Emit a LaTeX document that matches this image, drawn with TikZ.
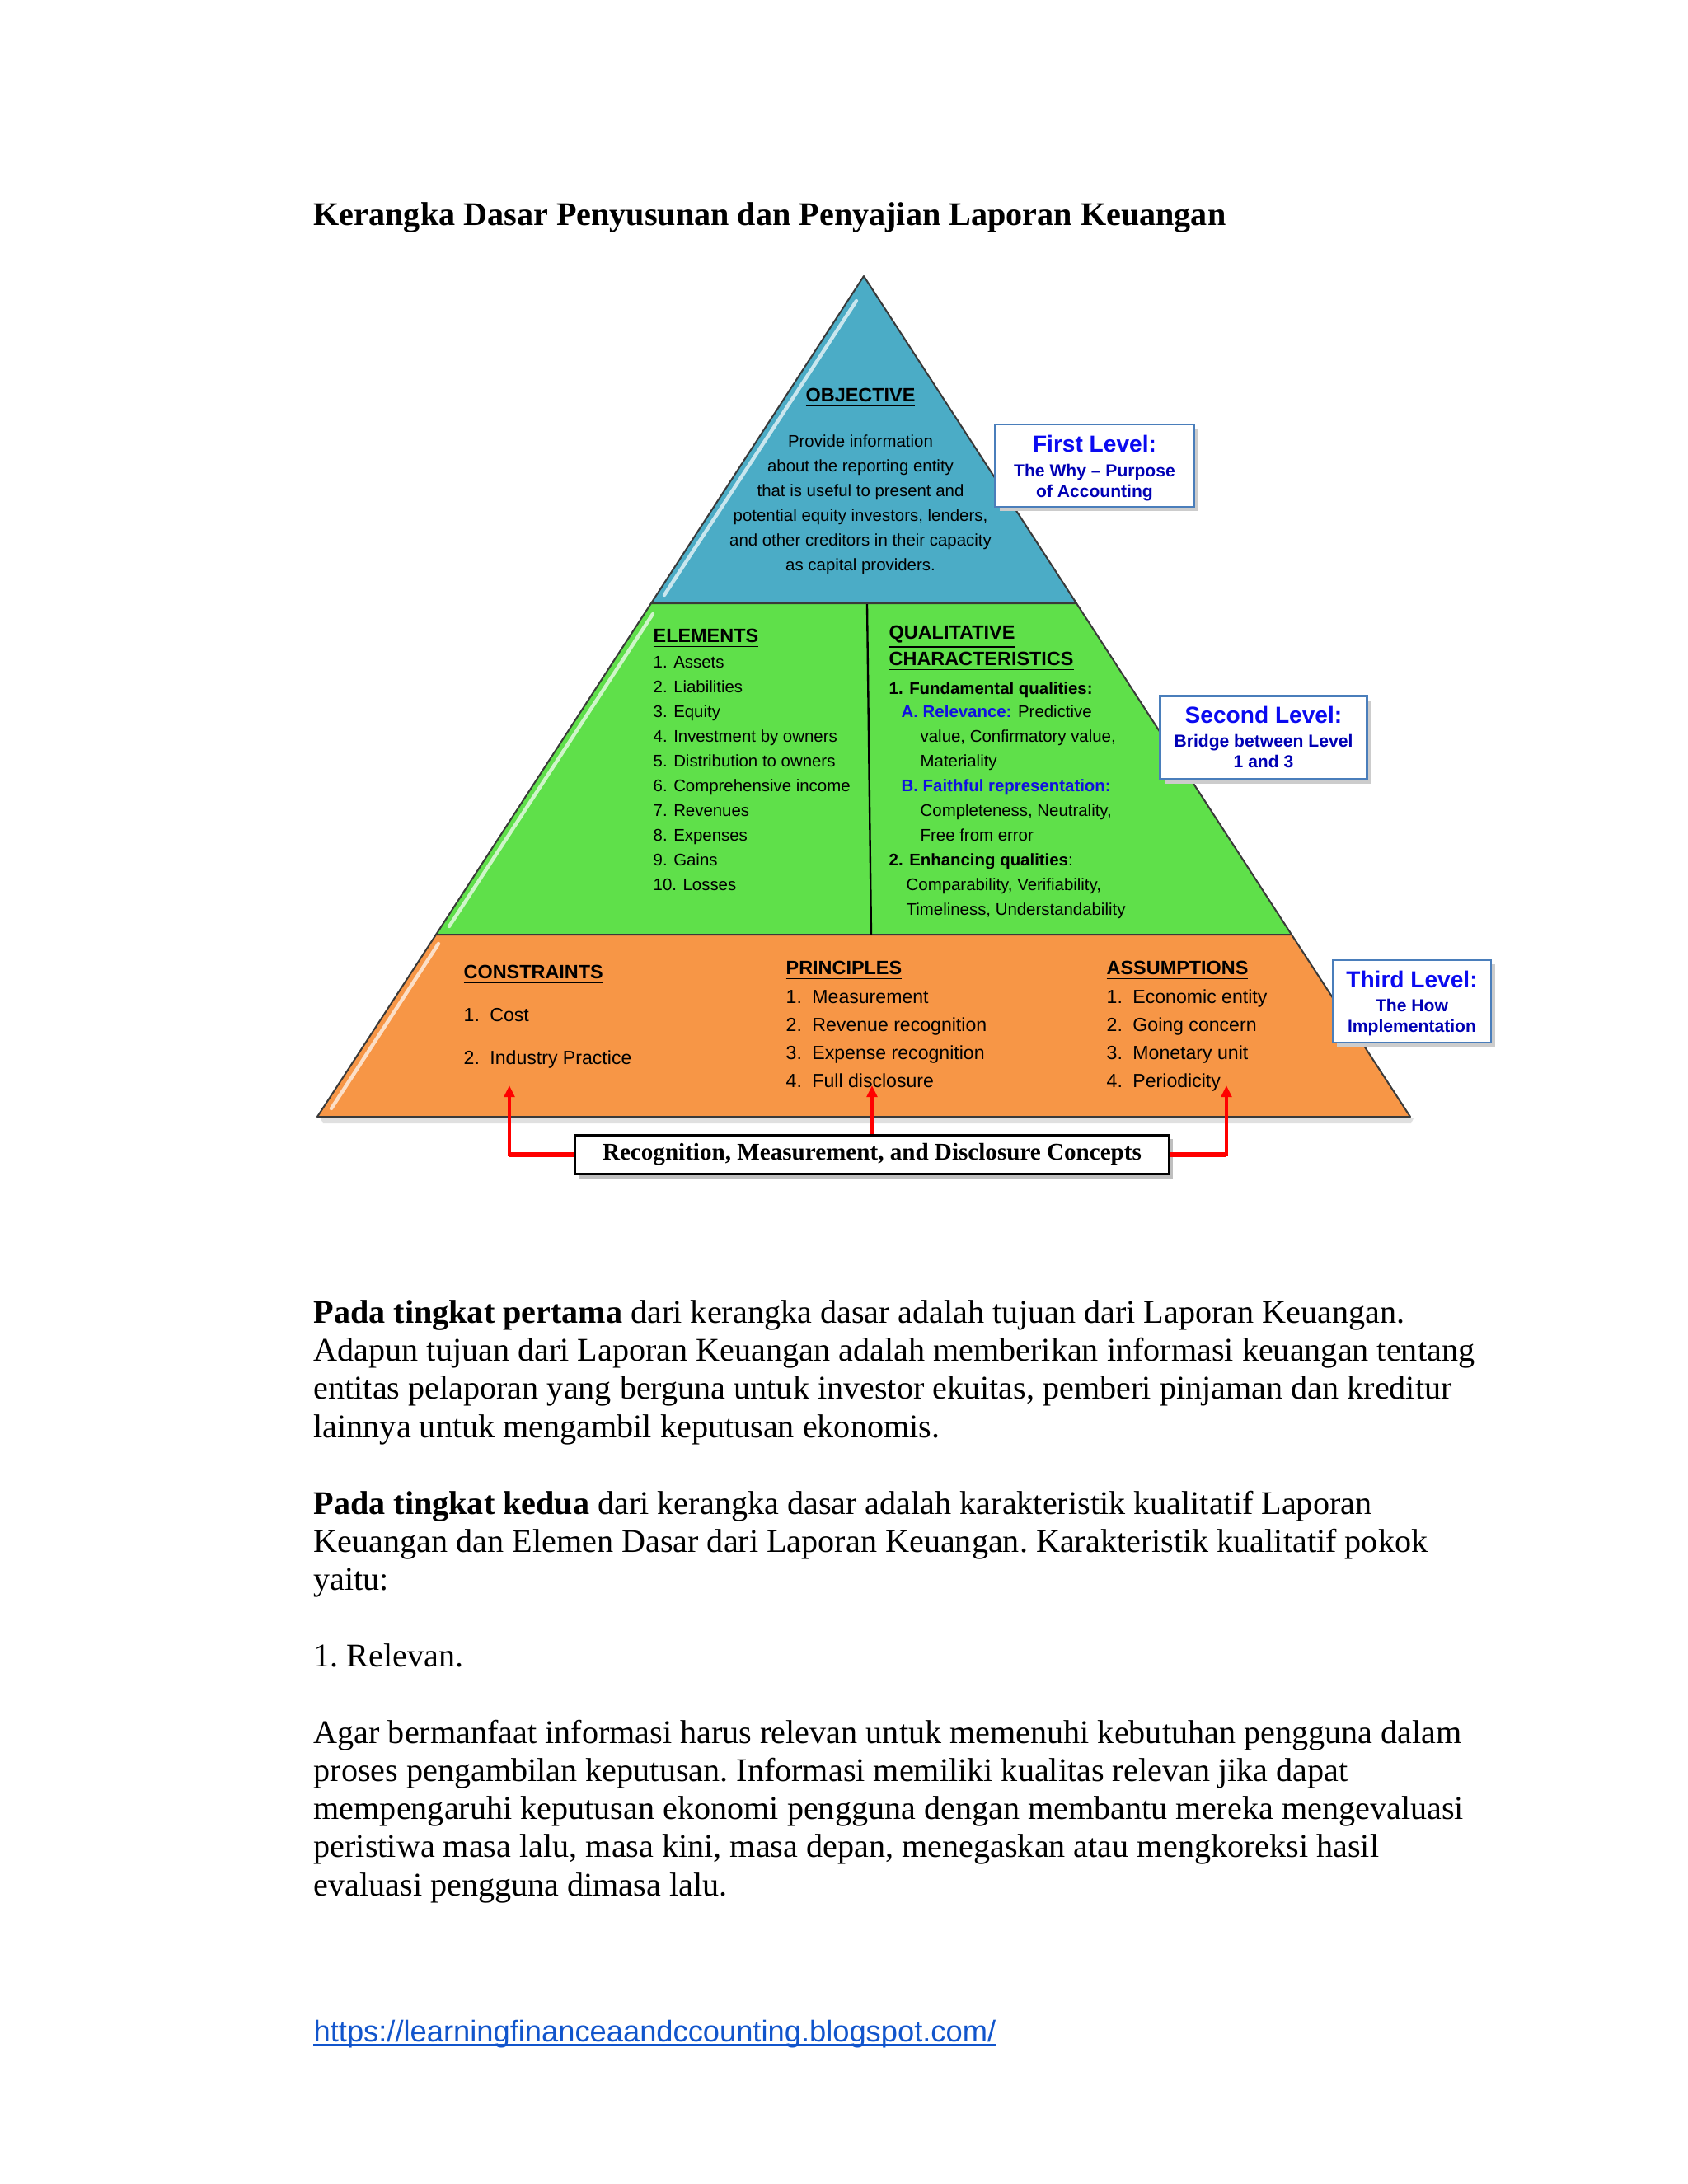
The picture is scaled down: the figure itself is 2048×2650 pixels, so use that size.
\documentclass[tikz,border=0pt]{standalone}
\usepackage{fontspec}
\setmainfont{Liberation Serif}
\newfontfamily\arial{Liberation Sans}
\usetikzlibrary{arrows.meta}
\definecolor{pblue}{HTML}{4BACC6}
\definecolor{pgreen}{HTML}{5FE04A}
\definecolor{porange}{HTML}{F79646}
\definecolor{lvlblue}{HTML}{0A0AF0}
\definecolor{subblue}{HTML}{0000B4}
\definecolor{qblue}{HTML}{1010E0}
\definecolor{boxblue}{HTML}{4A7EBB}
\definecolor{linkblue}{HTML}{1155CC}
\definecolor{edge}{HTML}{3A3A3A}
\tikzset{
  body/.style={anchor=base west, inner sep=0pt, font=\frenchspacing\fontsize{12}{14}\selectfont},
  gtxt/.style={anchor=mid west, inner sep=0pt, font=\arial\fontsize{6.1}{7}\selectfont},
  ctxt/.style={anchor=mid, inner sep=0pt, font=\arial\fontsize{6.1}{7}\selectfont},
  otxt/.style={anchor=mid west, inner sep=0pt, font=\arial\fontsize{6.9}{8}\selectfont},
  head/.style={anchor=mid west, inner sep=0pt, font=\arial\bfseries\fontsize{7}{8}\selectfont},
  lvlbox/.style={draw=boxblue, line width=0.7pt, fill=white, inner sep=0pt},
  lvltitle/.style={anchor=mid, inner sep=0pt, text=lvlblue, font=\arial\bfseries\fontsize{8.4}{9}\selectfont},
  lvlsub/.style={anchor=mid, inner sep=0pt, text=subblue, font=\arial\bfseries\fontsize{6.3}{7}\selectfont},
  redarrow/.style={draw=red, line width=1pt, -{Triangle[length=4.2pt,width=3.8pt]}},
  redbar/.style={draw=red, line width=1.6pt},
  shine/.style={draw=white, line width=1.3pt, line cap=round, opacity=0.7},
  section/.style={draw=edge, line width=0.6pt, line join=round}
}
\newcommand{\nb}[1]{\makebox[9.5pt][l]{#1}}
\begin{document}
\begin{tikzpicture}[x=0.29883pt, y=-0.29883pt]
\useasboundingbox (0,0) rectangle (2048,2650);
\fill[white] (0,0) rectangle (2048,2650);

% title
\node[body, font=\frenchspacing\bfseries\fontsize{12}{14}\selectfont] (title) at (380,273) {Kerangka Dasar Penyusunan dan Penyajian Laporan Keuangan};

% pyramid shadow
\fill[black!12] (389,1357) -- (1715,1357) -- (1712,1363) -- (392,1363) -- cycle;
% pyramid sections
\filldraw[section, fill=pblue] (1048,335) -- (790,732) -- (1306,732) -- cycle;
\filldraw[section, fill=pgreen] (790,732) -- (529,1134) -- (1567,1134) -- (1306,732) -- cycle;
\filldraw[section, fill=porange] (529,1134) -- (385,1355) -- (1711,1355) -- (1567,1134) -- cycle;
% highlights
\draw[shine] (1039,365) -- (806,722);
\draw[shine] (792,745) -- (545,1124);
\draw[shine] (532,1145) -- (402,1345);
% divider
\draw[black, line width=0.7pt] (1052,733) -- (1057,1134);

% blue section text
\node[ctxt, font=\arial\bfseries\fontsize{7}{8}\selectfont] (obj) at (1044,480) {\underline{OBJECTIVE}};
\node[ctxt] (o1) at (1044,535) {Provide information};
\node[ctxt] (o2) at (1044,565) {about the reporting entity};
\node[ctxt] (o3) at (1044,595) {that is useful to present and};
\node[ctxt] (o4) at (1044,625) {potential equity investors, lenders,};
\node[ctxt] (o5) at (1044,655) {and other creditors in their capacity};
\node[ctxt] (o6) at (1044,685) {as capital providers.};

% green section: elements
\node[head] (el) at (792,772) {\underline{ELEMENTS}};
\node[gtxt] (e1) at (792,803) {1. Assets};
\node[gtxt] (e2) at (792,833) {2. Liabilities};
\node[gtxt] (e3) at (792,863) {3. Equity};
\node[gtxt] (e4) at (792,893) {4. Investment by owners};
\node[gtxt] (e5) at (792,923) {5. Distribution to owners};
\node[gtxt] (e6) at (792,953) {6. Comprehensive income};
\node[gtxt] (e7) at (792,983) {7. Revenues};
\node[gtxt] (e8) at (792,1013) {8. Expenses};
\node[gtxt] (e9) at (792,1043) {9. Gains};
\node[gtxt] (e10) at (792,1073) {10. Losses};

% green section: qualitative characteristics
\node[head] (qc1) at (1078,768) {\underline{QUALITATIVE}};
\node[head] (qc2) at (1078,800) {\underline{CHARACTERISTICS}};
\node[gtxt] (q1) at (1078,835) {\textbf{1. Fundamental qualities:}};
\node[gtxt] (q2) at (1093,863) {\textcolor{qblue}{\textbf{A. Relevance:}} Predictive};
\node[gtxt] (q3) at (1116,893) {value, Confirmatory value,};
\node[gtxt] (q4) at (1116,923) {Materiality};
\node[gtxt] (q5) at (1093,953) {\textcolor{qblue}{\textbf{B. Faithful representation:}}};
\node[gtxt] (q6) at (1116,983) {Completeness, Neutrality,};
\node[gtxt] (q7) at (1116,1013) {Free from error};
\node[gtxt] (q8) at (1078,1043) {\textbf{2. Enhancing qualities}:};
\node[gtxt] (q9) at (1099,1073) {Comparability, Verifiability,};
\node[gtxt] (q10) at (1099,1103) {Timeliness, Understandability};

% orange section
\node[head] (con) at (562,1180) {\underline{CONSTRAINTS}};
\node[otxt] (c1) at (562,1232) {\nb{1.}Cost};
\node[otxt] (c2) at (562,1284) {\nb{2.}Industry Practice};

\node[head] (pri) at (953,1175) {\underline{PRINCIPLES}};
\node[otxt] (p1) at (953,1210) {\nb{1.}Measurement};
\node[otxt] (p2) at (953,1244) {\nb{2.}Revenue recognition};
\node[otxt] (p3) at (953,1278) {\nb{3.}Expense recognition};
\node[otxt] (p4) at (953,1312) {\nb{4.}Full disclosure};

\node[head] (asm) at (1342,1175) {\underline{ASSUMPTIONS}};
\node[otxt] (a1) at (1342,1210) {\nb{1.}Economic entity};
\node[otxt] (a2) at (1342,1244) {\nb{2.}Going concern};
\node[otxt] (a3) at (1342,1278) {\nb{3.}Monetary unit};
\node[otxt] (a4) at (1342,1312) {\nb{4.}Periodicity};

% level callouts
\fill[black!20] (1213,520) rectangle (1454,620);
\node[lvlbox, minimum width=72pt, minimum height=29.9pt] (lv1) at (1328,565) {};
\node[lvltitle] (lv1a) at (1328,541) {First Level:};
\node[lvlsub] (lv1b) at (1328,571) {The Why – Purpose};
\node[lvlsub] (lv1c) at (1328,596) {of Accounting};

\fill[black!20] (1413,850) rectangle (1664,951);
\node[lvlbox, minimum width=75pt, minimum height=30.2pt] (lv2) at (1533,895) {};
\node[lvltitle] (lv2a) at (1533,870) {Second Level:};
\node[lvlsub] (lv2b) at (1533,899) {Bridge between Level};
\node[lvlsub] (lv2c) at (1533,924) {1 and 3};

\fill[black!20] (1622,1170) rectangle (1814,1271);
\node[lvlbox, minimum width=57.3pt, minimum height=30pt] (lv3) at (1713,1215) {};
\node[lvltitle] (lv3a) at (1713,1191) {Third Level:};
\node[lvlsub] (lv3b) at (1713,1220) {The How};
\node[lvlsub] (lv3c) at (1713,1245) {Implementation};

% recognition box
\fill[black!25] (703,1382) rectangle (1423,1430);
\coordinate (cL) at (618,1317);
\coordinate (cM) at (1058,1317);
\coordinate (cR) at (1488,1317);
\draw[redbar] (1058,1401) -- (cL |- 0,1401);
\draw[redbar] (1058,1401) -- (cR |- 0,1401);
\node[draw=black, line width=0.9pt, fill=white, minimum width=215.2pt, minimum height=14.3pt, inner sep=0pt,
  font=\bfseries\fontsize{8.7}{10}\selectfont] (rmd) at (1058,1401) {Recognition, Measurement, and Disclosure Concepts};
\draw[redarrow] (rmd.west) -| (cL);
\draw[redarrow] (rmd.north) -- (cM);
\draw[redarrow] (rmd.east) -| (cR);

% body text
\node[body] (l1) at (380,1605) {\textbf{Pada tingkat pertama} dari kerangka dasar adalah tujuan dari Laporan Keuangan.};
\node[body] (l2) at (380,1651) {Adapun tujuan dari Laporan Keuangan adalah memberikan informasi keuangan tentang};
\node[body] (l3) at (380,1697) {entitas pelaporan yang berguna untuk investor ekuitas, pemberi pinjaman dan kreditur};
\node[body] (l4) at (380,1744) {lainnya untuk mengambil keputusan ekonomis.};
\node[body] (l5) at (380,1837) {\textbf{Pada tingkat kedua} dari kerangka dasar adalah karakteristik kualitatif Laporan};
\node[body] (l6) at (380,1883) {Keuangan dan Elemen Dasar dari Laporan Keuangan. Karakteristik kualitatif pokok};
\node[body] (l7) at (380,1929) {yaitu:};
\node[body] (l8) at (380,2022) {1. Relevan.};
\node[body] (l9) at (380,2115) {Agar bermanfaat informasi harus relevan untuk memenuhi kebutuhan pengguna dalam};
\node[body] (l10) at (380,2161) {proses pengambilan keputusan. Informasi memiliki kualitas relevan jika dapat};
\node[body] (l11) at (380,2207) {mempengaruhi keputusan ekonomi pengguna dengan membantu mereka mengevaluasi};
\node[body] (l12) at (380,2253) {peristiwa masa lalu, masa kini, masa depan, menegaskan atau mengkoreksi hasil};
\node[body] (l13) at (380,2300) {evaluasi pengguna dimasa lalu.};

\node[body, text=linkblue, font=\arial\fontsize{10.85}{13}\selectfont] (link) at (380,2477) {https://learningfinanceaandccounting.blogspot.com/};
\draw[linkblue, line width=0.55pt] ([yshift=-1.3pt]link.base west) -- ([yshift=-1.3pt]link.base east);
\end{tikzpicture}
\end{document}
